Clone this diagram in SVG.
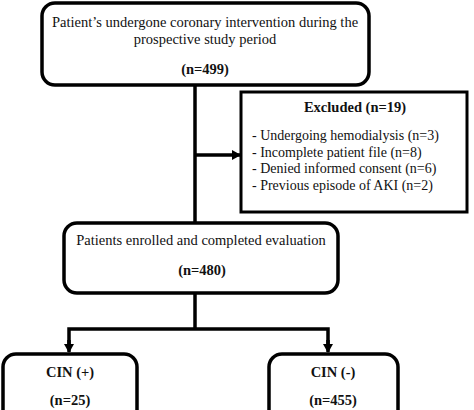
<svg xmlns="http://www.w3.org/2000/svg" width="474" height="410" viewBox="0 0 474 410">
<defs>
<style>
.box{fill:#fff;stroke:#000;stroke-width:3.5}
.c{fill:none;stroke:#000;stroke-width:3.5}
</style>
<marker id="ah" markerWidth="10" markerHeight="10" refX="8" refY="5" orient="auto" markerUnits="userSpaceOnUse">
<path d="M0,0 L9,5 L0,10 Z" fill="#000"/>
</marker>
</defs>
<rect width="474" height="410" fill="#fff"/>
<g id="connectors">
<line class="c" x1="195" y1="85" x2="195" y2="223"/>
<line class="c" x1="195" y1="155" x2="240" y2="155" marker-end="url(#ah)"/>
<polyline class="c" points="195,293 195,329"/>
<polyline class="c" points="69,345 69,329 328,329 328,345"/>
<line class="c" x1="69" y1="340" x2="69" y2="352" marker-end="url(#ah)"/>
<line class="c" x1="328" y1="340" x2="328" y2="352" marker-end="url(#ah)"/>
</g>
<g font-family="Liberation Serif, Times New Roman, serif" font-size="14.5" fill="#111" text-anchor="middle">
<g id="n1">
<rect class="box" x="42" y="3" width="327" height="82" rx="13"/>
<text x="205" y="27">Patient’s undergone coronary intervention during the</text>
<text x="205" y="44">prospective study period</text>
<text font-weight="bold" x="205" y="74">(n=499)</text>
</g>
<g id="n2">
<rect class="box" x="241" y="92" width="226" height="120" style="stroke-width:3"/>
<text font-weight="bold" x="355" y="112">Excluded (n=19)</text>
<g text-anchor="start" font-size="14">
<text x="252" y="140">- Undergoing hemodialysis (n=3)</text>
<text x="252" y="157">- Incomplete patient file (n=8)</text>
<text x="252" y="173">- Denied informed consent (n=6)</text>
<text x="252" y="190">- Previous episode of AKI (n=2)</text>
</g>
</g>
<g id="n3">
<rect class="box" x="64" y="223" width="274" height="70" rx="13"/>
<text x="201" y="245">Patients enrolled and completed evaluation</text>
<text font-weight="bold" x="202" y="275">(n=480)</text>
</g>
<g id="n4">
<rect class="box" x="3" y="354" width="134" height="70" rx="13"/>
<text font-weight="bold" x="70" y="377">CIN (+)</text>
<text font-weight="bold" x="70" y="405">(n=25)</text>
</g>
<g id="n5">
<rect class="box" x="269" y="354" width="129" height="70" rx="13"/>
<text font-weight="bold" x="333" y="377">CIN (-)</text>
<text font-weight="bold" x="333" y="405">(n=455)</text>
</g>
</g>
</svg>
